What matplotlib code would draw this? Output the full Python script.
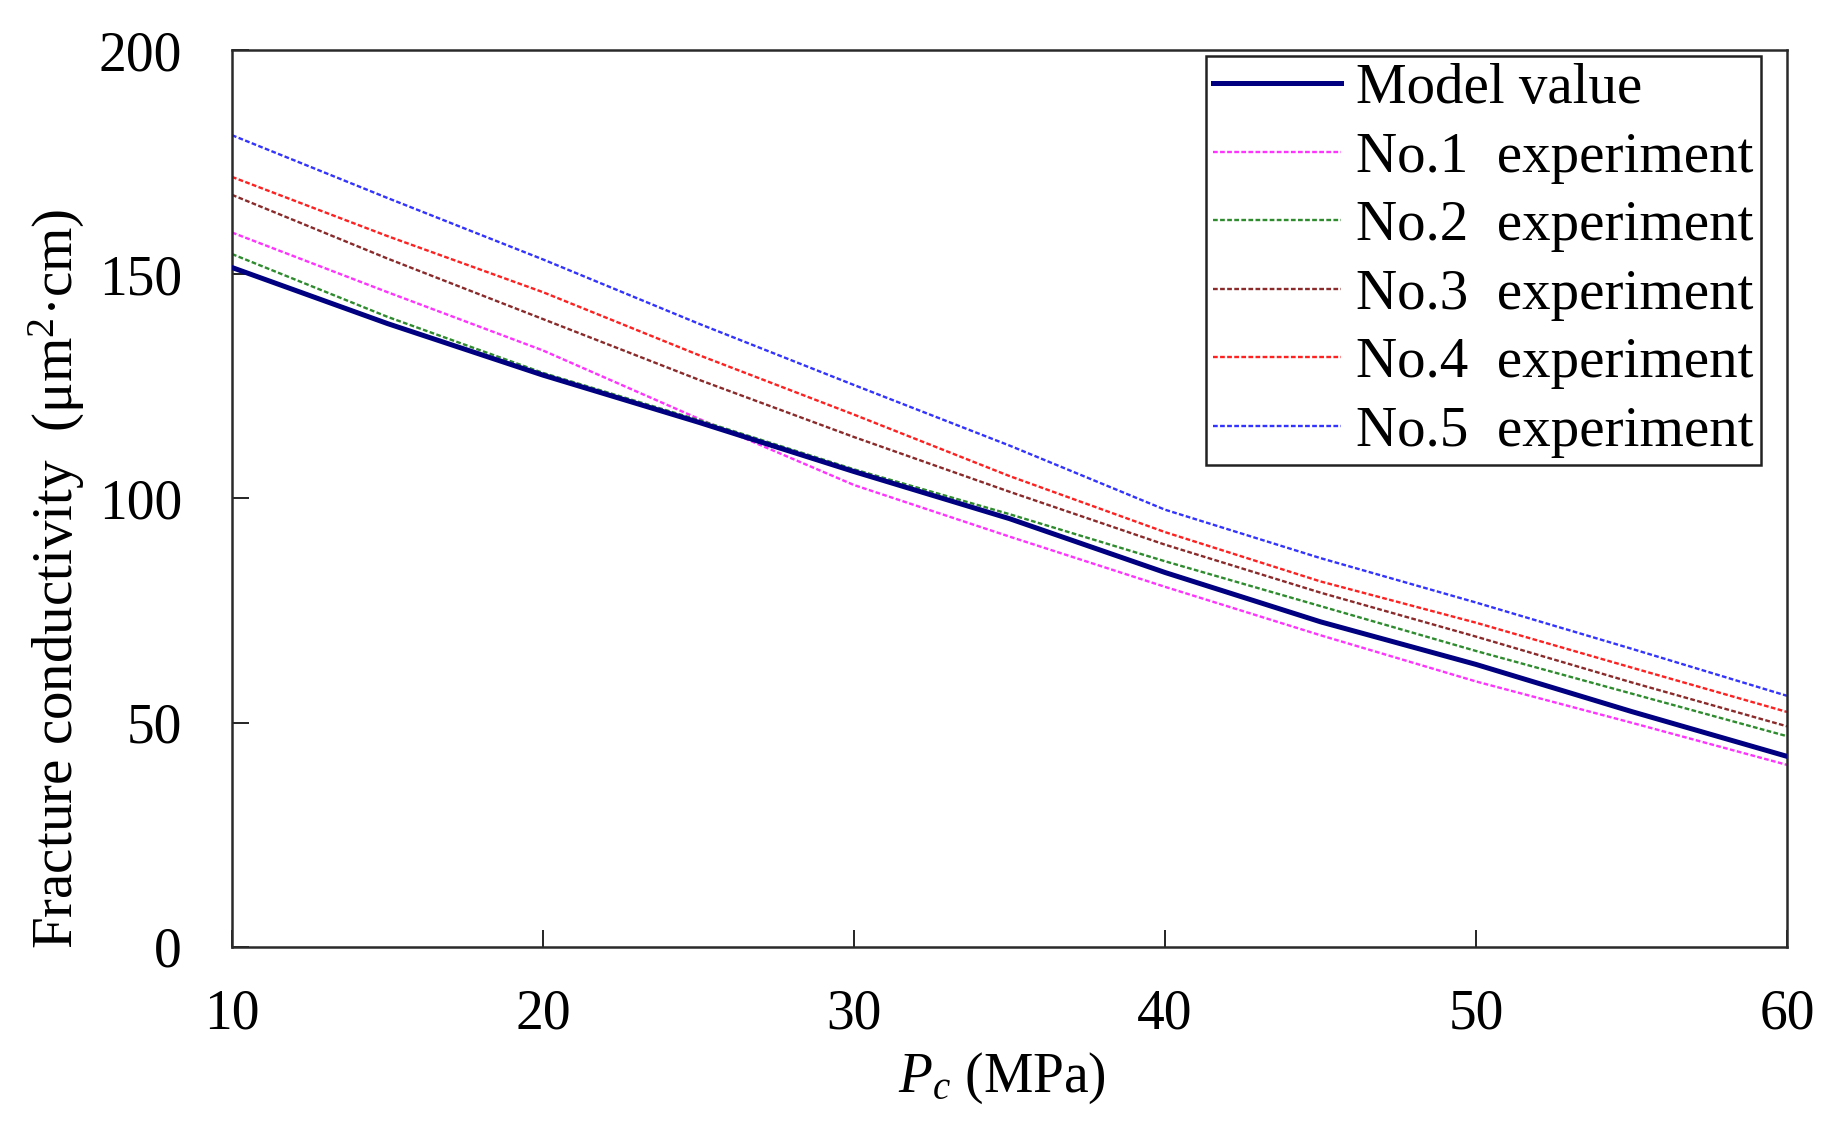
import matplotlib
matplotlib.use('Agg')
import matplotlib.pyplot as plt

plt.rcParams['font.family'] = ['Liberation Serif', 'DejaVu Serif']
plt.rcParams['mathtext.fontset'] = 'custom'
plt.rcParams['mathtext.rm'] = 'Liberation Serif'
plt.rcParams['mathtext.it'] = 'Liberation Serif:italic'

# closure pressure (MPa)
pc = [10, 15, 20, 25, 30, 35, 40, 45, 50, 55, 60]

# fracture conductivity (um^2.cm)
model_value = [151.5, 139, 127.5, 117, 106, 95.5, 83.5, 72.5, 63, 52.5, 42.5]
exp1 = [159.3, 146, 133, 117.8, 103, 91.5, 80.3, 69.5, 59.2, 50, 40.6]
exp2 = [154.5, 140.5, 128, 117.5, 106.5, 96.5, 86, 76, 66, 56.5, 47]
exp3 = [167.7, 153.5, 140, 126.5, 113.7, 101.5, 89.7, 79, 69.2, 59, 49.2]
exp4 = [171.7, 158.5, 146, 132, 118.7, 105, 92.5, 81.5, 72.3, 62.3, 52.4]
exp5 = [181, 167, 153.3, 139, 125.3, 111.8, 97.5, 86.7, 76.8, 66.5, 56]

fig = plt.figure(figsize=(18.37, 11.39), dpi=100)
ax = fig.add_axes([0.1263, 0.1686, 0.8465, 0.7875])

dot = (0, (2, 1))
ax.plot(pc, model_value, color='#000080', lw=3.6, label='Model value', zorder=3)
ax.plot(pc, exp1, color='#ff33ff', lw=1.7, ls=dot, label='No.1  experiment')
ax.plot(pc, exp2, color='#2e8b2e', lw=1.7, ls=dot, label='No.2  experiment')
ax.plot(pc, exp3, color='#8b2a2a', lw=1.7, ls=dot, label='No.3  experiment')
ax.plot(pc, exp4, color='#ff2020', lw=1.7, ls=dot, label='No.4  experiment')
ax.plot(pc, exp5, color='#3333ff', lw=1.7, ls=dot, label='No.5  experiment')

ax.set_xlim(10, 60)
ax.set_ylim(0, 200)
ax.set_xticks([10, 20, 30, 40, 50, 60])
ax.set_yticks([0, 50, 100, 150, 200])
ax.tick_params(direction='in', length=12, width=1.2, labelsize=40)
ax.tick_params(axis='y', pad=36)
ax.tick_params(axis='x', pad=30)
for s in ax.spines.values():
    s.set_linewidth(1.8)
    s.set_color('#2a2a2a')

ax.set_xlabel(r'$P_c$ (MPa)', fontsize=40)
ax.xaxis.set_label_coords(0.495, -0.116)
ax.set_ylabel('Fracture conductivity  (\u03bcm$^2$\u00b7cm)', fontsize=41)
ax.yaxis.set_label_coords(-0.093, 0.41)

leg = ax.legend(loc='upper right', fontsize=41, handlelength=2.25, handletextpad=0.27,
                labelspacing=0.29, borderpad=0.12, fancybox=False, framealpha=1,
                bbox_to_anchor=(0.983, 0.993), borderaxespad=0)
leg.get_frame().set_edgecolor('#222222')
leg.get_frame().set_linewidth(1.8)

fig.savefig('out.png', dpi=100)
